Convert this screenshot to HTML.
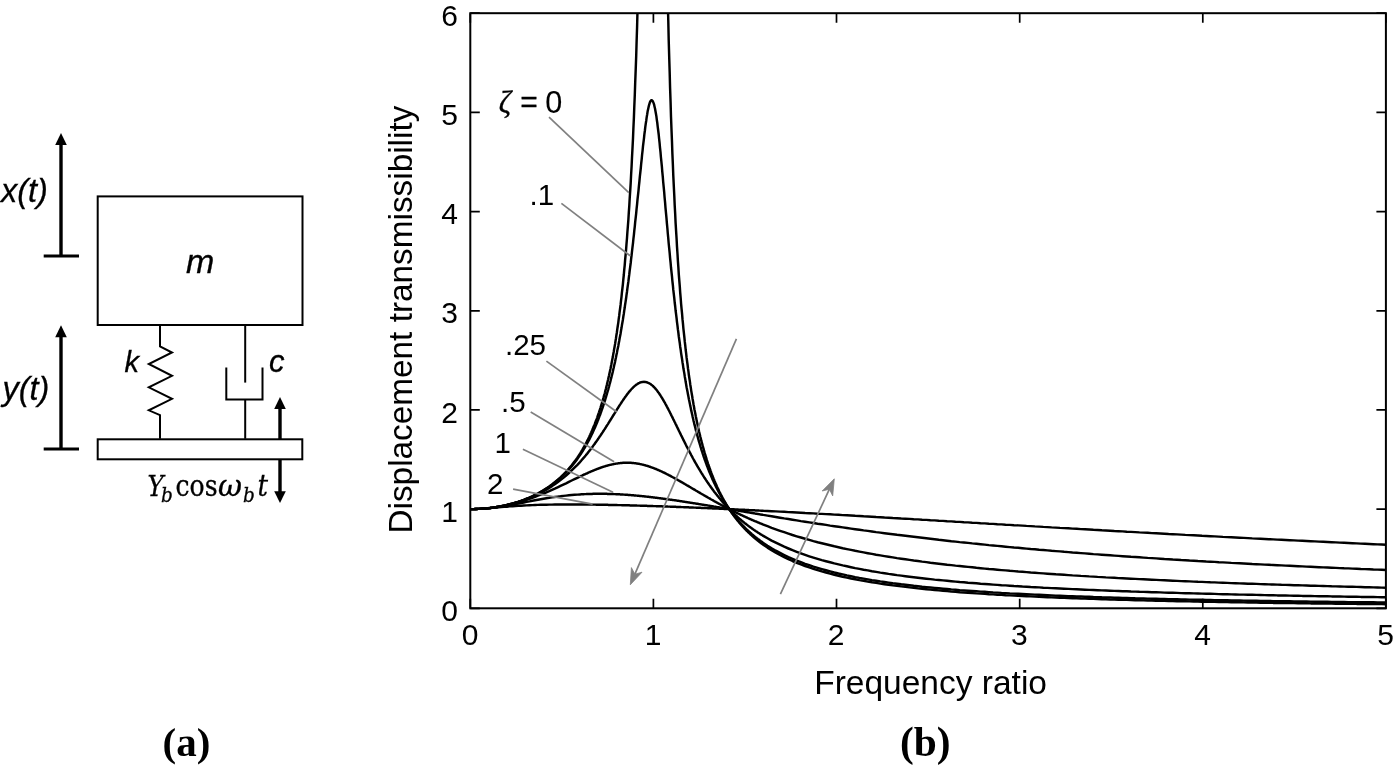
<!DOCTYPE html>
<html lang="en"><head><meta charset="utf-8"><title>Displacement transmissibility</title>
<style>
html,body{margin:0;padding:0;background:#fff;}
body{width:1394px;height:766px;overflow:hidden;}
svg{display:block;}
.s{font-family:"Liberation Sans",Arial,sans-serif;fill:#000;}
.si{font-family:"Liberation Sans",Arial,sans-serif;font-style:italic;fill:#000;stroke:#000;stroke-width:0.3px;}
.t{font-family:"Liberation Serif","Times New Roman",serif;fill:#000;}
.m{font-family:"DejaVu Serif Condensed","DejaVu Serif","Liberation Serif",serif;fill:#000;}
</style></head><body>
<svg width="1394" height="766" viewBox="0 0 1394 766">
<defs><clipPath id="ax"><rect x="470.3" y="13.2" width="915.6" height="595.1"/></clipPath></defs>
<rect width="1394" height="766" fill="#fff"/>

<g id="diagram" stroke="#000" fill="none">
<rect x="97.7" y="196.4" width="204.8" height="128.6" stroke-width="2"/>
<rect x="97.7" y="439.3" width="204.6" height="20" stroke-width="2"/>
<path d="M160,325 L160,346.4 L172,352.5 L148.8,364 L172,375.8 L148.8,387.3 L172,398.8 L148.8,410.3 L160,415.2 L160,438.8" stroke-width="2" stroke-linejoin="miter"/>
<path d="M245.2,325 L245.2,382.6" stroke-width="2"/>
<path d="M226.3,367.5 L226.3,399.6 L262.5,399.6 L262.5,367.5" stroke-width="2"/>
<path d="M245.2,399.6 L245.2,438.8" stroke-width="2"/>
<path d="M61,256 L61,142" stroke-width="3.4"/>
<path d="M43.7,256 L79,256" stroke-width="3"/>
<path d="M61,448.9 L61,335" stroke-width="3.4"/>
<path d="M43.7,448.9 L79,448.9" stroke-width="3"/>
<path d="M280,406 L280,439.3 M280,459.3 L280,494" stroke-width="3.4"/>
</g>
<g id="heads" fill="#000" stroke="none">
<path d="M61,133 L66.8,145 L55.2,145 Z"/>
<path d="M61,325.3 L66.8,337.3 L55.2,337.3 Z"/>
<path d="M280,397 L285.8,409 L274.2,409 Z"/>
<path d="M280,503 L285.8,491.3 L274.2,491.3 Z"/>
</g>
<text class="si" x="1" y="202" font-size="32.5">x(t)</text>
<text class="si" x="2.5" y="400" font-size="32.5">y(t)</text>
<text class="si" x="200.1" y="272.6" font-size="34" text-anchor="middle">m</text>
<text class="si" x="124.5" y="372.3" font-size="29">k</text>
<text class="si" x="269" y="372.3" font-size="31">c</text>
<g class="m" font-style="italic" stroke="#000" stroke-width="0.3"><text x="147.5" y="495.7" font-size="27">Y</text><text x="161" y="502" font-size="20.5">b</text><text x="175.5" y="495.7" font-size="29" font-style="normal" textLength="42" lengthAdjust="spacingAndGlyphs">cos</text><text x="218" y="495.7" font-size="29" textLength="24" lengthAdjust="spacingAndGlyphs">ω</text><text x="243" y="502" font-size="20.5">b</text><text x="257.5" y="495.7" font-size="29">t</text></g>
<text class="t" x="186.5" y="756.2" font-size="41" font-weight="bold" text-anchor="middle">(a)</text>
<text class="t" x="925.2" y="756.2" font-size="41.4" font-weight="bold" text-anchor="middle">(b)</text>
<g id="chart">
<g clip-path="url(#ax)" fill="none" stroke="#000" stroke-width="2.45" stroke-linejoin="round">
<path d="M470.3,509.1 L473.1,509.1 L475.9,509.0 L478.8,508.9 L481.6,508.7 L484.4,508.5 L487.2,508.3 L490.0,508.0 L492.8,507.6 L495.7,507.2 L498.5,506.7 L501.3,506.2 L504.1,505.6 L506.9,505.0 L509.7,504.3 L512.6,503.5 L515.4,502.7 L518.2,501.8 L521.0,500.9 L523.8,499.9 L526.6,498.7 L529.5,497.6 L532.3,496.3 L535.1,494.9 L537.9,493.5 L540.7,491.9 L543.5,490.2 L546.4,488.4 L549.2,486.5 L552.0,484.5 L554.8,482.3 L557.6,479.9 L560.5,477.4 L563.3,474.7 L566.1,471.8 L568.9,468.6 L571.7,465.2 L574.5,461.6 L577.4,457.6 L580.2,453.3 L580.6,452.6 L581.1,451.8 L581.5,451.1 L582.0,450.3 L582.5,449.6 L582.9,448.8 L583.4,448.0 L583.8,447.2 L584.3,446.3 L584.8,445.5 L585.2,444.7 L585.7,443.8 L586.1,443.0 L586.6,442.1 L587.1,441.2 L587.5,440.3 L588.0,439.3 L588.4,438.4 L588.9,437.5 L589.4,436.5 L589.8,435.5 L590.3,434.5 L590.7,433.5 L591.2,432.5 L591.6,431.5 L592.1,430.4 L592.6,429.3 L593.0,428.2 L593.5,427.1 L593.9,426.0 L594.4,424.9 L594.9,423.7 L595.3,422.5 L595.8,421.3 L596.2,420.1 L596.7,418.9 L597.2,417.6 L597.6,416.3 L598.1,415.0 L598.5,413.7 L599.0,412.3 L599.4,411.0 L599.9,409.6 L600.4,408.1 L600.8,406.7 L601.3,405.2 L601.7,403.7 L602.2,402.2 L602.7,400.6 L603.1,399.0 L603.6,397.4 L604.0,395.7 L604.5,394.1 L605.0,392.3 L605.4,390.6 L605.9,388.8 L606.3,387.0 L606.8,385.1 L607.2,383.2 L607.7,381.3 L608.2,379.3 L608.6,377.3 L609.1,375.3 L609.5,373.2 L610.0,371.0 L610.5,368.8 L610.9,366.6 L611.4,364.3 L611.8,361.9 L612.3,359.5 L612.8,357.1 L613.2,354.6 L613.7,352.0 L614.1,349.4 L614.6,346.7 L615.1,343.9 L615.5,341.1 L616.0,338.2 L616.4,335.2 L616.9,332.2 L617.3,329.1 L617.8,325.8 L618.3,322.6 L618.7,319.2 L619.2,315.7 L619.6,312.1 L620.1,308.5 L620.6,304.7 L621.0,300.8 L621.5,296.8 L621.9,292.7 L622.4,288.5 L622.9,284.1 L623.3,279.7 L623.8,275.0 L624.2,270.2 L624.7,265.3 L625.1,260.2 L625.6,254.9 L626.1,249.5 L626.5,243.9 L627.0,238.0 L627.4,232.0 L627.9,225.8 L628.4,219.3 L628.8,212.6 L629.3,205.6 L629.7,198.3 L630.2,190.8 L630.7,182.9 L631.1,174.8 L631.6,166.2 L632.0,157.4 L632.5,148.1 L633.0,138.4 L633.4,128.2 L633.9,117.6 L634.3,106.5 L634.8,94.8 L635.2,82.5 L635.7,69.6 L636.2,56.0 L636.6,41.7 L637.1,26.5 L637.5,10.5 L638.0,-6.5 L638.5,-24.5 L638.9,-43.7 L639.0,-46.3 M666.8,-46.3 L666.9,-40.8 L667.4,-18.7 L667.8,2.0 L668.3,21.4 L668.7,39.7 L669.2,56.9 L669.7,73.1 L670.1,88.4 L670.6,102.9 L671.0,116.7 L671.5,129.7 L672.0,142.1 L672.4,153.9 L672.9,165.2 L673.3,175.9 L673.8,186.1 L674.3,195.9 L674.7,205.3 L675.2,214.3 L675.6,222.9 L676.1,231.1 L676.6,239.0 L677.0,246.6 L677.5,254.0 L677.9,261.0 L678.4,267.8 L678.8,274.3 L679.3,280.6 L679.8,286.7 L680.2,292.6 L680.7,298.3 L681.1,303.8 L681.6,309.1 L682.1,314.2 L682.5,319.2 L683.0,324.0 L683.4,328.7 L683.9,333.2 L684.4,337.6 L684.8,341.9 L685.3,346.0 L685.7,350.0 L686.2,353.9 L686.6,357.7 L687.1,361.4 L687.6,365.0 L688.0,368.5 L688.5,371.9 L688.9,375.3 L689.4,378.5 L689.9,381.6 L690.3,384.7 L690.8,387.7 L691.2,390.6 L691.7,393.5 L692.2,396.3 L692.6,399.0 L693.1,401.7 L693.5,404.3 L694.0,406.8 L694.4,409.3 L694.9,411.7 L695.4,414.1 L695.8,416.4 L696.3,418.6 L696.7,420.9 L697.2,423.0 L697.7,425.2 L698.1,427.2 L698.6,429.3 L699.0,431.3 L699.5,433.2 L700.0,435.2 L700.4,437.0 L700.9,438.9 L701.3,440.7 L701.8,442.5 L702.3,444.2 L702.7,445.9 L703.2,447.6 L703.6,449.2 L704.1,450.9 L704.5,452.4 L705.0,454.0 L705.5,455.5 L705.9,457.0 L706.4,458.5 L706.8,459.9 L707.3,461.4 L707.8,462.8 L708.2,464.1 L708.7,465.5 L709.1,466.8 L709.6,468.1 L710.1,469.4 L710.5,470.7 L711.0,471.9 L711.4,473.2 L711.9,474.4 L712.3,475.6 L712.8,476.7 L713.3,477.9 L713.7,479.0 L714.2,480.1 L714.6,481.2 L715.1,482.3 L715.6,483.4 L716.0,484.4 L716.5,485.4 L716.9,486.5 L717.4,487.5 L717.9,488.5 L718.3,489.4 L718.8,490.4 L719.2,491.3 L719.7,492.3 L720.2,493.2 L720.6,494.1 L721.1,495.0 L721.5,495.9 L722.0,496.7 L722.4,497.6 L722.9,498.4 L723.4,499.3 L723.8,500.1 L724.3,500.9 L724.7,501.7 L725.2,502.5 L725.7,503.3 L726.1,504.1 L726.6,504.8 L727.0,505.6 L727.5,506.3 L728.0,507.1 L728.4,507.8 L728.9,508.5 L729.3,509.2 L729.8,509.9 L730.2,510.6 L730.7,511.3 L731.2,511.9 L731.6,512.6 L732.1,513.3 L732.5,513.9 L733.0,514.6 L733.5,515.2 L733.9,515.8 L734.4,516.4 L734.8,517.0 L735.3,517.7 L735.8,518.2 L736.2,518.8 L736.7,519.4 L737.1,520.0 L737.6,520.6 L738.0,521.1 L738.5,521.7 L739.0,522.2 L739.4,522.8 L739.9,523.3 L740.3,523.9 L740.8,524.4 L741.3,524.9 L741.7,525.4 L742.2,525.9 L742.6,526.5 L743.1,527.0 L743.6,527.4 L744.0,527.9 L744.5,528.4 L744.9,528.9 L745.4,529.4 L745.9,529.9 L746.3,530.3 L746.8,530.8 L747.2,531.2 L747.7,531.7 L748.1,532.1 L748.6,532.6 L749.1,533.0 L749.5,533.4 L750.0,533.9 L750.4,534.3 L750.9,534.7 L751.4,535.1 L751.8,535.6 L752.3,536.0 L752.7,536.4 L753.2,536.8 L753.7,537.2 L754.1,537.6 L754.6,538.0 L755.0,538.3 L755.5,538.7 L755.9,539.1 L756.4,539.5 L756.9,539.8 L757.3,540.2 L757.8,540.6 L758.2,540.9 L758.7,541.3 L759.2,541.7 L759.6,542.0 L760.1,542.4 L760.5,542.7 L761.0,543.1 L761.5,543.4 L761.9,543.7 L762.4,544.1 L762.8,544.4 L763.3,544.7 L767.5,547.6 L771.6,550.2 L775.8,552.7 L780.0,555.0 L784.2,557.1 L788.4,559.1 L792.5,561.0 L796.7,562.8 L800.9,564.4 L805.1,566.0 L809.3,567.4 L813.4,568.8 L817.6,570.1 L821.8,571.4 L826.0,572.5 L830.1,573.6 L834.3,574.7 L838.5,575.7 L842.7,576.7 L846.9,577.6 L851.0,578.5 L855.2,579.3 L859.4,580.1 L863.6,580.8 L867.8,581.6 L871.9,582.3 L876.1,582.9 L880.3,583.6 L884.5,584.2 L888.6,584.8 L892.8,585.4 L897.0,585.9 L901.2,586.4 L905.4,586.9 L909.5,587.4 L913.7,587.9 L917.9,588.4 L922.1,588.8 L926.3,589.2 L930.4,589.6 L934.6,590.0 L938.8,590.4 L943.0,590.8 L947.1,591.1 L951.3,591.5 L955.5,591.8 L959.7,592.2 L963.9,592.5 L968.0,592.8 L972.2,593.1 L976.4,593.4 L980.6,593.6 L984.8,593.9 L988.9,594.2 L993.1,594.4 L997.3,594.7 L1001.5,594.9 L1005.6,595.2 L1009.8,595.4 L1014.0,595.6 L1018.2,595.8 L1022.4,596.0 L1026.5,596.2 L1030.7,596.4 L1034.9,596.6 L1039.1,596.8 L1043.3,597.0 L1047.4,597.2 L1051.6,597.4 L1055.8,597.5 L1060.0,597.7 L1064.1,597.9 L1068.3,598.0 L1072.5,598.2 L1076.7,598.3 L1080.9,598.5 L1085.0,598.6 L1089.2,598.8 L1093.4,598.9 L1097.6,599.1 L1101.8,599.2 L1105.9,599.3 L1110.1,599.5 L1114.3,599.6 L1118.5,599.7 L1122.6,599.8 L1126.8,599.9 L1131.0,600.0 L1135.2,600.2 L1139.4,600.3 L1143.5,600.4 L1147.7,600.5 L1151.9,600.6 L1156.1,600.7 L1160.3,600.8 L1164.4,600.9 L1168.6,601.0 L1172.8,601.1 L1177.0,601.2 L1181.1,601.3 L1185.3,601.3 L1189.5,601.4 L1193.7,601.5 L1197.9,601.6 L1202.0,601.7 L1206.2,601.8 L1210.4,601.8 L1214.6,601.9 L1218.8,602.0 L1222.9,602.1 L1227.1,602.1 L1231.3,602.2 L1235.5,602.3 L1239.6,602.3 L1243.8,602.4 L1248.0,602.5 L1252.2,602.5 L1256.4,602.6 L1260.5,602.7 L1264.7,602.7 L1268.9,602.8 L1273.1,602.9 L1277.3,602.9 L1281.4,603.0 L1285.6,603.0 L1289.8,603.1 L1294.0,603.1 L1298.1,603.2 L1302.3,603.3 L1306.5,603.3 L1310.7,603.4 L1314.9,603.4 L1319.0,603.5 L1323.2,603.5 L1327.4,603.6 L1331.6,603.6 L1335.8,603.7 L1339.9,603.7 L1344.1,603.7 L1348.3,603.8 L1352.5,603.8 L1356.6,603.9 L1360.8,603.9 L1365.0,604.0 L1369.2,604.0 L1373.4,604.0 L1377.5,604.1 L1381.7,604.1 L1385.9,604.2"/>
<path d="M470.3,509.1 L473.1,509.1 L475.9,509.0 L478.8,508.9 L481.6,508.7 L484.4,508.5 L487.2,508.3 L490.0,508.0 L492.8,507.6 L495.7,507.2 L498.5,506.7 L501.3,506.2 L504.1,505.6 L506.9,505.0 L509.7,504.3 L512.6,503.6 L515.4,502.7 L518.2,501.9 L521.0,500.9 L523.8,499.9 L526.6,498.8 L529.5,497.6 L532.3,496.4 L535.1,495.0 L537.9,493.6 L540.7,492.0 L543.5,490.4 L546.4,488.6 L549.2,486.7 L552.0,484.7 L554.8,482.6 L557.6,480.3 L560.5,477.9 L563.3,475.2 L566.1,472.4 L568.9,469.4 L571.7,466.2 L574.5,462.7 L577.4,458.9 L580.2,454.9 L580.6,454.2 L581.1,453.5 L581.5,452.8 L582.0,452.1 L582.5,451.4 L582.9,450.6 L583.4,449.9 L583.8,449.1 L584.3,448.4 L584.8,447.6 L585.2,446.8 L585.7,446.0 L586.1,445.2 L586.6,444.4 L587.1,443.6 L587.5,442.7 L588.0,441.9 L588.4,441.0 L588.9,440.2 L589.4,439.3 L589.8,438.4 L590.3,437.5 L590.7,436.6 L591.2,435.6 L591.6,434.7 L592.1,433.7 L592.6,432.8 L593.0,431.8 L593.5,430.8 L593.9,429.8 L594.4,428.8 L594.9,427.7 L595.3,426.7 L595.8,425.6 L596.2,424.5 L596.7,423.4 L597.2,422.3 L597.6,421.1 L598.1,420.0 L598.5,418.8 L599.0,417.6 L599.4,416.4 L599.9,415.2 L600.4,414.0 L600.8,412.7 L601.3,411.4 L601.7,410.1 L602.2,408.8 L602.7,407.4 L603.1,406.1 L603.6,404.7 L604.0,403.3 L604.5,401.9 L605.0,400.4 L605.4,398.9 L605.9,397.4 L606.3,395.9 L606.8,394.4 L607.2,392.8 L607.7,391.2 L608.2,389.6 L608.6,387.9 L609.1,386.3 L609.5,384.5 L610.0,382.8 L610.5,381.0 L610.9,379.3 L611.4,377.4 L611.8,375.6 L612.3,373.7 L612.8,371.8 L613.2,369.8 L613.7,367.8 L614.1,365.8 L614.6,363.7 L615.1,361.6 L615.5,359.5 L616.0,357.3 L616.4,355.1 L616.9,352.9 L617.3,350.6 L617.8,348.3 L618.3,345.9 L618.7,343.5 L619.2,341.0 L619.6,338.5 L620.1,336.0 L620.6,333.4 L621.0,330.7 L621.5,328.1 L621.9,325.3 L622.4,322.5 L622.9,319.7 L623.3,316.8 L623.8,313.9 L624.2,310.9 L624.7,307.8 L625.1,304.7 L625.6,301.6 L626.1,298.3 L626.5,295.1 L627.0,291.7 L627.4,288.4 L627.9,284.9 L628.4,281.4 L628.8,277.8 L629.3,274.2 L629.7,270.5 L630.2,266.8 L630.7,263.0 L631.1,259.2 L631.6,255.2 L632.0,251.3 L632.5,247.2 L633.0,243.1 L633.4,239.0 L633.9,234.8 L634.3,230.6 L634.8,226.3 L635.2,221.9 L635.7,217.6 L636.2,213.1 L636.6,208.7 L637.1,204.2 L637.5,199.7 L638.0,195.2 L638.5,190.6 L638.9,186.1 L639.4,181.5 L639.8,177.0 L640.3,172.5 L640.8,168.0 L641.2,163.5 L641.7,159.1 L642.1,154.7 L642.6,150.4 L643.0,146.2 L643.5,142.1 L644.0,138.1 L644.4,134.2 L644.9,130.5 L645.3,126.9 L645.8,123.4 L646.3,120.2 L646.7,117.1 L647.2,114.3 L647.6,111.6 L648.1,109.3 L648.6,107.1 L649.0,105.3 L649.5,103.7 L649.9,102.4 L650.4,101.4 L650.8,100.7 L651.3,100.3 L651.8,100.2 L652.2,100.5 L652.7,101.0 L653.1,101.9 L653.6,103.1 L654.1,104.6 L654.5,106.4 L655.0,108.5 L655.4,110.8 L655.9,113.5 L656.4,116.4 L656.8,119.6 L657.3,123.0 L657.7,126.6 L658.2,130.5 L658.7,134.5 L659.1,138.7 L659.6,143.1 L660.0,147.6 L660.5,152.2 L660.9,157.0 L661.4,161.9 L661.9,166.8 L662.3,171.8 L662.8,176.9 L663.2,182.0 L663.7,187.2 L664.2,192.3 L664.6,197.5 L665.1,202.7 L665.5,207.9 L666.0,213.1 L666.5,218.3 L666.9,223.4 L667.4,228.5 L667.8,233.5 L668.3,238.6 L668.7,243.5 L669.2,248.4 L669.7,253.3 L670.1,258.1 L670.6,262.8 L671.0,267.5 L671.5,272.1 L672.0,276.7 L672.4,281.1 L672.9,285.5 L673.3,289.9 L673.8,294.1 L674.3,298.3 L674.7,302.5 L675.2,306.5 L675.6,310.5 L676.1,314.4 L676.6,318.3 L677.0,322.1 L677.5,325.8 L677.9,329.4 L678.4,333.0 L678.8,336.5 L679.3,340.0 L679.8,343.3 L680.2,346.7 L680.7,349.9 L681.1,353.1 L681.6,356.3 L682.1,359.4 L682.5,362.4 L683.0,365.3 L683.4,368.3 L683.9,371.1 L684.4,373.9 L684.8,376.7 L685.3,379.4 L685.7,382.1 L686.2,384.7 L686.6,387.2 L687.1,389.7 L687.6,392.2 L688.0,394.6 L688.5,397.0 L688.9,399.3 L689.4,401.6 L689.9,403.9 L690.3,406.1 L690.8,408.3 L691.2,410.4 L691.7,412.5 L692.2,414.6 L692.6,416.6 L693.1,418.6 L693.5,420.6 L694.0,422.5 L694.4,424.4 L694.9,426.2 L695.4,428.1 L695.8,429.9 L696.3,431.6 L696.7,433.4 L697.2,435.1 L697.7,436.8 L698.1,438.4 L698.6,440.1 L699.0,441.7 L699.5,443.2 L700.0,444.8 L700.4,446.3 L700.9,447.8 L701.3,449.3 L701.8,450.8 L702.3,452.2 L702.7,453.6 L703.2,455.0 L703.6,456.4 L704.1,457.7 L704.5,459.0 L705.0,460.3 L705.5,461.6 L705.9,462.9 L706.4,464.1 L706.8,465.4 L707.3,466.6 L707.8,467.8 L708.2,469.0 L708.7,470.1 L709.1,471.3 L709.6,472.4 L710.1,473.5 L710.5,474.6 L711.0,475.7 L711.4,476.8 L711.9,477.8 L712.3,478.9 L712.8,479.9 L713.3,480.9 L713.7,481.9 L714.2,482.9 L714.6,483.8 L715.1,484.8 L715.6,485.7 L716.0,486.7 L716.5,487.6 L716.9,488.5 L717.4,489.4 L717.9,490.3 L718.3,491.2 L718.8,492.0 L719.2,492.9 L719.7,493.7 L720.2,494.5 L720.6,495.4 L721.1,496.2 L721.5,497.0 L722.0,497.8 L722.4,498.5 L722.9,499.3 L723.4,500.1 L723.8,500.8 L724.3,501.6 L724.7,502.3 L725.2,503.0 L725.7,503.8 L726.1,504.5 L726.6,505.2 L727.0,505.9 L727.5,506.5 L728.0,507.2 L728.4,507.9 L728.9,508.5 L729.3,509.2 L729.8,509.8 L730.2,510.5 L730.7,511.1 L731.2,511.7 L731.6,512.4 L732.1,513.0 L732.5,513.6 L733.0,514.2 L733.5,514.8 L733.9,515.4 L734.4,515.9 L734.8,516.5 L735.3,517.1 L735.8,517.6 L736.2,518.2 L736.7,518.7 L737.1,519.3 L737.6,519.8 L738.0,520.3 L738.5,520.9 L739.0,521.4 L739.4,521.9 L739.9,522.4 L740.3,522.9 L740.8,523.4 L741.3,523.9 L741.7,524.4 L742.2,524.9 L742.6,525.4 L743.1,525.8 L743.6,526.3 L744.0,526.8 L744.5,527.2 L744.9,527.7 L745.4,528.2 L745.9,528.6 L746.3,529.0 L746.8,529.5 L747.2,529.9 L747.7,530.4 L748.1,530.8 L748.6,531.2 L749.1,531.6 L749.5,532.0 L750.0,532.4 L750.4,532.9 L750.9,533.3 L751.4,533.7 L751.8,534.1 L752.3,534.5 L752.7,534.8 L753.2,535.2 L753.7,535.6 L754.1,536.0 L754.6,536.4 L755.0,536.7 L755.5,537.1 L755.9,537.5 L756.4,537.8 L756.9,538.2 L757.3,538.5 L757.8,538.9 L758.2,539.2 L758.7,539.6 L759.2,539.9 L759.6,540.3 L760.1,540.6 L760.5,541.0 L761.0,541.3 L761.5,541.6 L761.9,541.9 L762.4,542.3 L762.8,542.6 L763.3,542.9 L767.5,545.7 L771.6,548.3 L775.8,550.7 L780.0,552.9 L784.2,555.0 L788.4,557.0 L792.5,558.8 L796.7,560.6 L800.9,562.2 L805.1,563.8 L809.3,565.2 L813.4,566.6 L817.6,567.9 L821.8,569.1 L826.0,570.3 L830.1,571.4 L834.3,572.5 L838.5,573.5 L842.7,574.4 L846.9,575.4 L851.0,576.2 L855.2,577.1 L859.4,577.9 L863.6,578.6 L867.8,579.4 L871.9,580.1 L876.1,580.7 L880.3,581.4 L884.5,582.0 L888.6,582.6 L892.8,583.2 L897.0,583.7 L901.2,584.3 L905.4,584.8 L909.5,585.3 L913.7,585.8 L917.9,586.2 L922.1,586.7 L926.3,587.1 L930.4,587.5 L934.6,587.9 L938.8,588.3 L943.0,588.7 L947.1,589.0 L951.3,589.4 L955.5,589.7 L959.7,590.1 L963.9,590.4 L968.0,590.7 L972.2,591.0 L976.4,591.3 L980.6,591.6 L984.8,591.8 L988.9,592.1 L993.1,592.4 L997.3,592.6 L1001.5,592.9 L1005.6,593.1 L1009.8,593.4 L1014.0,593.6 L1018.2,593.8 L1022.4,594.0 L1026.5,594.2 L1030.7,594.4 L1034.9,594.6 L1039.1,594.8 L1043.3,595.0 L1047.4,595.2 L1051.6,595.4 L1055.8,595.6 L1060.0,595.7 L1064.1,595.9 L1068.3,596.1 L1072.5,596.2 L1076.7,596.4 L1080.9,596.5 L1085.0,596.7 L1089.2,596.8 L1093.4,597.0 L1097.6,597.1 L1101.8,597.3 L1105.9,597.4 L1110.1,597.5 L1114.3,597.7 L1118.5,597.8 L1122.6,597.9 L1126.8,598.0 L1131.0,598.1 L1135.2,598.3 L1139.4,598.4 L1143.5,598.5 L1147.7,598.6 L1151.9,598.7 L1156.1,598.8 L1160.3,598.9 L1164.4,599.0 L1168.6,599.1 L1172.8,599.2 L1177.0,599.3 L1181.1,599.4 L1185.3,599.5 L1189.5,599.6 L1193.7,599.7 L1197.9,599.7 L1202.0,599.8 L1206.2,599.9 L1210.4,600.0 L1214.6,600.1 L1218.8,600.2 L1222.9,600.2 L1227.1,600.3 L1231.3,600.4 L1235.5,600.5 L1239.6,600.5 L1243.8,600.6 L1248.0,600.7 L1252.2,600.7 L1256.4,600.8 L1260.5,600.9 L1264.7,600.9 L1268.9,601.0 L1273.1,601.1 L1277.3,601.1 L1281.4,601.2 L1285.6,601.3 L1289.8,601.3 L1294.0,601.4 L1298.1,601.4 L1302.3,601.5 L1306.5,601.5 L1310.7,601.6 L1314.9,601.7 L1319.0,601.7 L1323.2,601.8 L1327.4,601.8 L1331.6,601.9 L1335.8,601.9 L1339.9,602.0 L1344.1,602.0 L1348.3,602.1 L1352.5,602.1 L1356.6,602.2 L1360.8,602.2 L1365.0,602.2 L1369.2,602.3 L1373.4,602.3 L1377.5,602.4 L1381.7,602.4 L1385.9,602.5"/>
<path d="M470.3,509.1 L473.1,509.1 L475.9,509.0 L478.8,508.9 L481.6,508.7 L484.4,508.5 L487.2,508.3 L490.0,508.0 L492.8,507.6 L495.7,507.2 L498.5,506.7 L501.3,506.2 L504.1,505.6 L506.9,505.0 L509.7,504.4 L512.6,503.6 L515.4,502.8 L518.2,502.0 L521.0,501.1 L523.8,500.1 L526.6,499.0 L529.5,497.9 L532.3,496.7 L535.1,495.4 L537.9,494.1 L540.7,492.7 L543.5,491.2 L546.4,489.6 L549.2,487.9 L552.0,486.1 L554.8,484.2 L557.6,482.2 L560.5,480.1 L563.3,477.9 L566.1,475.5 L568.9,473.0 L571.7,470.4 L574.5,467.7 L577.4,464.8 L580.2,461.8 L580.6,461.3 L581.1,460.8 L581.5,460.3 L582.0,459.7 L582.5,459.2 L582.9,458.7 L583.4,458.2 L583.8,457.6 L584.3,457.1 L584.8,456.6 L585.2,456.0 L585.7,455.5 L586.1,454.9 L586.6,454.3 L587.1,453.8 L587.5,453.2 L588.0,452.6 L588.4,452.1 L588.9,451.5 L589.4,450.9 L589.8,450.3 L590.3,449.7 L590.7,449.1 L591.2,448.5 L591.6,447.9 L592.1,447.3 L592.6,446.7 L593.0,446.1 L593.5,445.4 L593.9,444.8 L594.4,444.2 L594.9,443.6 L595.3,442.9 L595.8,442.3 L596.2,441.6 L596.7,441.0 L597.2,440.3 L597.6,439.7 L598.1,439.0 L598.5,438.3 L599.0,437.7 L599.4,437.0 L599.9,436.3 L600.4,435.7 L600.8,435.0 L601.3,434.3 L601.7,433.6 L602.2,432.9 L602.7,432.2 L603.1,431.5 L603.6,430.8 L604.0,430.1 L604.5,429.4 L605.0,428.7 L605.4,428.0 L605.9,427.2 L606.3,426.5 L606.8,425.8 L607.2,425.1 L607.7,424.4 L608.2,423.6 L608.6,422.9 L609.1,422.2 L609.5,421.4 L610.0,420.7 L610.5,420.0 L610.9,419.2 L611.4,418.5 L611.8,417.8 L612.3,417.0 L612.8,416.3 L613.2,415.5 L613.7,414.8 L614.1,414.1 L614.6,413.3 L615.1,412.6 L615.5,411.9 L616.0,411.1 L616.4,410.4 L616.9,409.7 L617.3,408.9 L617.8,408.2 L618.3,407.5 L618.7,406.7 L619.2,406.0 L619.6,405.3 L620.1,404.6 L620.6,403.9 L621.0,403.2 L621.5,402.5 L621.9,401.8 L622.4,401.1 L622.9,400.4 L623.3,399.7 L623.8,399.1 L624.2,398.4 L624.7,397.7 L625.1,397.1 L625.6,396.5 L626.1,395.8 L626.5,395.2 L627.0,394.6 L627.4,394.0 L627.9,393.4 L628.4,392.8 L628.8,392.2 L629.3,391.7 L629.7,391.1 L630.2,390.6 L630.7,390.0 L631.1,389.5 L631.6,389.0 L632.0,388.5 L632.5,388.1 L633.0,387.6 L633.4,387.1 L633.9,386.7 L634.3,386.3 L634.8,385.9 L635.2,385.5 L635.7,385.2 L636.2,384.8 L636.6,384.5 L637.1,384.2 L637.5,383.9 L638.0,383.6 L638.5,383.3 L638.9,383.1 L639.4,382.9 L639.8,382.7 L640.3,382.5 L640.8,382.4 L641.2,382.2 L641.7,382.1 L642.1,382.0 L642.6,381.9 L643.0,381.9 L643.5,381.9 L644.0,381.8 L644.4,381.9 L644.9,381.9 L645.3,382.0 L645.8,382.0 L646.3,382.1 L646.7,382.3 L647.2,382.4 L647.6,382.6 L648.1,382.8 L648.6,383.0 L649.0,383.2 L649.5,383.5 L649.9,383.7 L650.4,384.0 L650.8,384.3 L651.3,384.7 L651.8,385.0 L652.2,385.4 L652.7,385.8 L653.1,386.3 L653.6,386.7 L654.1,387.2 L654.5,387.6 L655.0,388.1 L655.4,388.7 L655.9,389.2 L656.4,389.8 L656.8,390.3 L657.3,390.9 L657.7,391.5 L658.2,392.2 L658.7,392.8 L659.1,393.5 L659.6,394.1 L660.0,394.8 L660.5,395.5 L660.9,396.2 L661.4,397.0 L661.9,397.7 L662.3,398.5 L662.8,399.2 L663.2,400.0 L663.7,400.8 L664.2,401.6 L664.6,402.4 L665.1,403.2 L665.5,404.1 L666.0,404.9 L666.5,405.8 L666.9,406.6 L667.4,407.5 L667.8,408.4 L668.3,409.2 L668.7,410.1 L669.2,411.0 L669.7,411.9 L670.1,412.8 L670.6,413.7 L671.0,414.6 L671.5,415.6 L672.0,416.5 L672.4,417.4 L672.9,418.3 L673.3,419.3 L673.8,420.2 L674.3,421.2 L674.7,422.1 L675.2,423.0 L675.6,424.0 L676.1,424.9 L676.6,425.9 L677.0,426.8 L677.5,427.7 L677.9,428.7 L678.4,429.6 L678.8,430.6 L679.3,431.5 L679.8,432.5 L680.2,433.4 L680.7,434.3 L681.1,435.3 L681.6,436.2 L682.1,437.1 L682.5,438.1 L683.0,439.0 L683.4,439.9 L683.9,440.8 L684.4,441.8 L684.8,442.7 L685.3,443.6 L685.7,444.5 L686.2,445.4 L686.6,446.3 L687.1,447.2 L687.6,448.1 L688.0,449.0 L688.5,449.9 L688.9,450.7 L689.4,451.6 L689.9,452.5 L690.3,453.4 L690.8,454.2 L691.2,455.1 L691.7,455.9 L692.2,456.8 L692.6,457.6 L693.1,458.5 L693.5,459.3 L694.0,460.1 L694.4,461.0 L694.9,461.8 L695.4,462.6 L695.8,463.4 L696.3,464.2 L696.7,465.0 L697.2,465.8 L697.7,466.6 L698.1,467.4 L698.6,468.2 L699.0,468.9 L699.5,469.7 L700.0,470.5 L700.4,471.2 L700.9,472.0 L701.3,472.7 L701.8,473.5 L702.3,474.2 L702.7,474.9 L703.2,475.7 L703.6,476.4 L704.1,477.1 L704.5,477.8 L705.0,478.5 L705.5,479.2 L705.9,479.9 L706.4,480.6 L706.8,481.3 L707.3,482.0 L707.8,482.6 L708.2,483.3 L708.7,484.0 L709.1,484.6 L709.6,485.3 L710.1,485.9 L710.5,486.6 L711.0,487.2 L711.4,487.9 L711.9,488.5 L712.3,489.1 L712.8,489.7 L713.3,490.4 L713.7,491.0 L714.2,491.6 L714.6,492.2 L715.1,492.8 L715.6,493.4 L716.0,494.0 L716.5,494.5 L716.9,495.1 L717.4,495.7 L717.9,496.3 L718.3,496.8 L718.8,497.4 L719.2,497.9 L719.7,498.5 L720.2,499.0 L720.6,499.6 L721.1,500.1 L721.5,500.7 L722.0,501.2 L722.4,501.7 L722.9,502.3 L723.4,502.8 L723.8,503.3 L724.3,503.8 L724.7,504.3 L725.2,504.8 L725.7,505.3 L726.1,505.8 L726.6,506.3 L727.0,506.8 L727.5,507.3 L728.0,507.8 L728.4,508.2 L728.9,508.7 L729.3,509.2 L729.8,509.6 L730.2,510.1 L730.7,510.6 L731.2,511.0 L731.6,511.5 L732.1,511.9 L732.5,512.4 L733.0,512.8 L733.5,513.2 L733.9,513.7 L734.4,514.1 L734.8,514.5 L735.3,515.0 L735.8,515.4 L736.2,515.8 L736.7,516.2 L737.1,516.6 L737.6,517.1 L738.0,517.5 L738.5,517.9 L739.0,518.3 L739.4,518.7 L739.9,519.1 L740.3,519.4 L740.8,519.8 L741.3,520.2 L741.7,520.6 L742.2,521.0 L742.6,521.4 L743.1,521.7 L743.6,522.1 L744.0,522.5 L744.5,522.9 L744.9,523.2 L745.4,523.6 L745.9,523.9 L746.3,524.3 L746.8,524.6 L747.2,525.0 L747.7,525.3 L748.1,525.7 L748.6,526.0 L749.1,526.4 L749.5,526.7 L750.0,527.1 L750.4,527.4 L750.9,527.7 L751.4,528.0 L751.8,528.4 L752.3,528.7 L752.7,529.0 L753.2,529.3 L753.7,529.7 L754.1,530.0 L754.6,530.3 L755.0,530.6 L755.5,530.9 L755.9,531.2 L756.4,531.5 L756.9,531.8 L757.3,532.1 L757.8,532.4 L758.2,532.7 L758.7,533.0 L759.2,533.3 L759.6,533.6 L760.1,533.9 L760.5,534.2 L761.0,534.5 L761.5,534.7 L761.9,535.0 L762.4,535.3 L762.8,535.6 L763.3,535.9 L767.5,538.3 L771.6,540.6 L775.8,542.7 L780.0,544.7 L784.2,546.7 L788.4,548.5 L792.5,550.2 L796.7,551.8 L800.9,553.4 L805.1,554.9 L809.3,556.3 L813.4,557.6 L817.6,558.9 L821.8,560.1 L826.0,561.2 L830.1,562.3 L834.3,563.4 L838.5,564.4 L842.7,565.4 L846.9,566.3 L851.0,567.2 L855.2,568.1 L859.4,568.9 L863.6,569.7 L867.8,570.4 L871.9,571.2 L876.1,571.9 L880.3,572.6 L884.5,573.2 L888.6,573.9 L892.8,574.5 L897.0,575.1 L901.2,575.6 L905.4,576.2 L909.5,576.7 L913.7,577.2 L917.9,577.7 L922.1,578.2 L926.3,578.7 L930.4,579.1 L934.6,579.6 L938.8,580.0 L943.0,580.4 L947.1,580.8 L951.3,581.2 L955.5,581.6 L959.7,582.0 L963.9,582.3 L968.0,582.7 L972.2,583.0 L976.4,583.3 L980.6,583.7 L984.8,584.0 L988.9,584.3 L993.1,584.6 L997.3,584.9 L1001.5,585.2 L1005.6,585.4 L1009.8,585.7 L1014.0,586.0 L1018.2,586.2 L1022.4,586.5 L1026.5,586.7 L1030.7,587.0 L1034.9,587.2 L1039.1,587.4 L1043.3,587.7 L1047.4,587.9 L1051.6,588.1 L1055.8,588.3 L1060.0,588.5 L1064.1,588.7 L1068.3,588.9 L1072.5,589.1 L1076.7,589.3 L1080.9,589.5 L1085.0,589.7 L1089.2,589.9 L1093.4,590.0 L1097.6,590.2 L1101.8,590.4 L1105.9,590.5 L1110.1,590.7 L1114.3,590.9 L1118.5,591.0 L1122.6,591.2 L1126.8,591.3 L1131.0,591.5 L1135.2,591.6 L1139.4,591.8 L1143.5,591.9 L1147.7,592.0 L1151.9,592.2 L1156.1,592.3 L1160.3,592.4 L1164.4,592.6 L1168.6,592.7 L1172.8,592.8 L1177.0,592.9 L1181.1,593.1 L1185.3,593.2 L1189.5,593.3 L1193.7,593.4 L1197.9,593.5 L1202.0,593.6 L1206.2,593.7 L1210.4,593.8 L1214.6,593.9 L1218.8,594.1 L1222.9,594.2 L1227.1,594.3 L1231.3,594.4 L1235.5,594.5 L1239.6,594.6 L1243.8,594.6 L1248.0,594.7 L1252.2,594.8 L1256.4,594.9 L1260.5,595.0 L1264.7,595.1 L1268.9,595.2 L1273.1,595.3 L1277.3,595.4 L1281.4,595.4 L1285.6,595.5 L1289.8,595.6 L1294.0,595.7 L1298.1,595.8 L1302.3,595.9 L1306.5,595.9 L1310.7,596.0 L1314.9,596.1 L1319.0,596.2 L1323.2,596.2 L1327.4,596.3 L1331.6,596.4 L1335.8,596.4 L1339.9,596.5 L1344.1,596.6 L1348.3,596.7 L1352.5,596.7 L1356.6,596.8 L1360.8,596.9 L1365.0,596.9 L1369.2,597.0 L1373.4,597.0 L1377.5,597.1 L1381.7,597.2 L1385.9,597.2"/>
<path d="M470.3,509.1 L473.1,509.1 L475.9,509.0 L478.8,508.9 L481.6,508.7 L484.4,508.5 L487.2,508.3 L490.0,508.0 L492.8,507.6 L495.7,507.2 L498.5,506.8 L501.3,506.3 L504.1,505.7 L506.9,505.2 L509.7,504.5 L512.6,503.8 L515.4,503.1 L518.2,502.3 L521.0,501.5 L523.8,500.7 L526.6,499.8 L529.5,498.8 L532.3,497.8 L535.1,496.8 L537.9,495.7 L540.7,494.6 L543.5,493.5 L546.4,492.3 L549.2,491.1 L552.0,489.8 L554.8,488.6 L557.6,487.3 L560.5,485.9 L563.3,484.6 L566.1,483.3 L568.9,481.9 L571.7,480.5 L574.5,479.2 L577.4,477.8 L580.2,476.5 L580.6,476.2 L581.1,476.0 L581.5,475.8 L582.0,475.6 L582.5,475.4 L582.9,475.2 L583.4,474.9 L583.8,474.7 L584.3,474.5 L584.8,474.3 L585.2,474.1 L585.7,473.9 L586.1,473.7 L586.6,473.5 L587.1,473.3 L587.5,473.1 L588.0,472.8 L588.4,472.6 L588.9,472.4 L589.4,472.2 L589.8,472.0 L590.3,471.8 L590.7,471.6 L591.2,471.4 L591.6,471.2 L592.1,471.1 L592.6,470.9 L593.0,470.7 L593.5,470.5 L593.9,470.3 L594.4,470.1 L594.9,469.9 L595.3,469.7 L595.8,469.6 L596.2,469.4 L596.7,469.2 L597.2,469.0 L597.6,468.8 L598.1,468.7 L598.5,468.5 L599.0,468.3 L599.4,468.2 L599.9,468.0 L600.4,467.8 L600.8,467.7 L601.3,467.5 L601.7,467.3 L602.2,467.2 L602.7,467.0 L603.1,466.9 L603.6,466.7 L604.0,466.6 L604.5,466.4 L605.0,466.3 L605.4,466.2 L605.9,466.0 L606.3,465.9 L606.8,465.8 L607.2,465.6 L607.7,465.5 L608.2,465.4 L608.6,465.2 L609.1,465.1 L609.5,465.0 L610.0,464.9 L610.5,464.8 L610.9,464.7 L611.4,464.6 L611.8,464.5 L612.3,464.4 L612.8,464.3 L613.2,464.2 L613.7,464.1 L614.1,464.0 L614.6,463.9 L615.1,463.8 L615.5,463.7 L616.0,463.6 L616.4,463.6 L616.9,463.5 L617.3,463.4 L617.8,463.4 L618.3,463.3 L618.7,463.2 L619.2,463.2 L619.6,463.1 L620.1,463.1 L620.6,463.0 L621.0,463.0 L621.5,462.9 L621.9,462.9 L622.4,462.9 L622.9,462.8 L623.3,462.8 L623.8,462.8 L624.2,462.8 L624.7,462.8 L625.1,462.7 L625.6,462.7 L626.1,462.7 L626.5,462.7 L627.0,462.7 L627.4,462.7 L627.9,462.7 L628.4,462.7 L628.8,462.7 L629.3,462.8 L629.7,462.8 L630.2,462.8 L630.7,462.8 L631.1,462.8 L631.6,462.9 L632.0,462.9 L632.5,463.0 L633.0,463.0 L633.4,463.0 L633.9,463.1 L634.3,463.1 L634.8,463.2 L635.2,463.3 L635.7,463.3 L636.2,463.4 L636.6,463.4 L637.1,463.5 L637.5,463.6 L638.0,463.7 L638.5,463.8 L638.9,463.8 L639.4,463.9 L639.8,464.0 L640.3,464.1 L640.8,464.2 L641.2,464.3 L641.7,464.4 L642.1,464.5 L642.6,464.6 L643.0,464.7 L643.5,464.9 L644.0,465.0 L644.4,465.1 L644.9,465.2 L645.3,465.3 L645.8,465.5 L646.3,465.6 L646.7,465.7 L647.2,465.9 L647.6,466.0 L648.1,466.2 L648.6,466.3 L649.0,466.5 L649.5,466.6 L649.9,466.8 L650.4,466.9 L650.8,467.1 L651.3,467.3 L651.8,467.4 L652.2,467.6 L652.7,467.8 L653.1,467.9 L653.6,468.1 L654.1,468.3 L654.5,468.5 L655.0,468.6 L655.4,468.8 L655.9,469.0 L656.4,469.2 L656.8,469.4 L657.3,469.6 L657.7,469.8 L658.2,470.0 L658.7,470.2 L659.1,470.4 L659.6,470.6 L660.0,470.8 L660.5,471.0 L660.9,471.2 L661.4,471.4 L661.9,471.6 L662.3,471.9 L662.8,472.1 L663.2,472.3 L663.7,472.5 L664.2,472.7 L664.6,473.0 L665.1,473.2 L665.5,473.4 L666.0,473.6 L666.5,473.9 L666.9,474.1 L667.4,474.3 L667.8,474.6 L668.3,474.8 L668.7,475.1 L669.2,475.3 L669.7,475.5 L670.1,475.8 L670.6,476.0 L671.0,476.3 L671.5,476.5 L672.0,476.8 L672.4,477.0 L672.9,477.3 L673.3,477.5 L673.8,477.8 L674.3,478.0 L674.7,478.3 L675.2,478.5 L675.6,478.8 L676.1,479.0 L676.6,479.3 L677.0,479.5 L677.5,479.8 L677.9,480.1 L678.4,480.3 L678.8,480.6 L679.3,480.8 L679.8,481.1 L680.2,481.4 L680.7,481.6 L681.1,481.9 L681.6,482.2 L682.1,482.4 L682.5,482.7 L683.0,482.9 L683.4,483.2 L683.9,483.5 L684.4,483.7 L684.8,484.0 L685.3,484.3 L685.7,484.6 L686.2,484.8 L686.6,485.1 L687.1,485.4 L687.6,485.6 L688.0,485.9 L688.5,486.2 L688.9,486.4 L689.4,486.7 L689.9,487.0 L690.3,487.2 L690.8,487.5 L691.2,487.8 L691.7,488.1 L692.2,488.3 L692.6,488.6 L693.1,488.9 L693.5,489.1 L694.0,489.4 L694.4,489.7 L694.9,489.9 L695.4,490.2 L695.8,490.5 L696.3,490.8 L696.7,491.0 L697.2,491.3 L697.7,491.6 L698.1,491.8 L698.6,492.1 L699.0,492.4 L699.5,492.6 L700.0,492.9 L700.4,493.2 L700.9,493.5 L701.3,493.7 L701.8,494.0 L702.3,494.3 L702.7,494.5 L703.2,494.8 L703.6,495.1 L704.1,495.3 L704.5,495.6 L705.0,495.8 L705.5,496.1 L705.9,496.4 L706.4,496.6 L706.8,496.9 L707.3,497.2 L707.8,497.4 L708.2,497.7 L708.7,498.0 L709.1,498.2 L709.6,498.5 L710.1,498.7 L710.5,499.0 L711.0,499.3 L711.4,499.5 L711.9,499.8 L712.3,500.0 L712.8,500.3 L713.3,500.5 L713.7,500.8 L714.2,501.1 L714.6,501.3 L715.1,501.6 L715.6,501.8 L716.0,502.1 L716.5,502.3 L716.9,502.6 L717.4,502.8 L717.9,503.1 L718.3,503.3 L718.8,503.6 L719.2,503.8 L719.7,504.1 L720.2,504.3 L720.6,504.6 L721.1,504.8 L721.5,505.1 L722.0,505.3 L722.4,505.6 L722.9,505.8 L723.4,506.0 L723.8,506.3 L724.3,506.5 L724.7,506.8 L725.2,507.0 L725.7,507.3 L726.1,507.5 L726.6,507.7 L727.0,508.0 L727.5,508.2 L728.0,508.4 L728.4,508.7 L728.9,508.9 L729.3,509.1 L729.8,509.4 L730.2,509.6 L730.7,509.8 L731.2,510.1 L731.6,510.3 L732.1,510.5 L732.5,510.8 L733.0,511.0 L733.5,511.2 L733.9,511.5 L734.4,511.7 L734.8,511.9 L735.3,512.1 L735.8,512.4 L736.2,512.6 L736.7,512.8 L737.1,513.0 L737.6,513.3 L738.0,513.5 L738.5,513.7 L739.0,513.9 L739.4,514.1 L739.9,514.3 L740.3,514.6 L740.8,514.8 L741.3,515.0 L741.7,515.2 L742.2,515.4 L742.6,515.6 L743.1,515.9 L743.6,516.1 L744.0,516.3 L744.5,516.5 L744.9,516.7 L745.4,516.9 L745.9,517.1 L746.3,517.3 L746.8,517.5 L747.2,517.7 L747.7,518.0 L748.1,518.2 L748.6,518.4 L749.1,518.6 L749.5,518.8 L750.0,519.0 L750.4,519.2 L750.9,519.4 L751.4,519.6 L751.8,519.8 L752.3,520.0 L752.7,520.2 L753.2,520.4 L753.7,520.6 L754.1,520.8 L754.6,521.0 L755.0,521.2 L755.5,521.4 L755.9,521.5 L756.4,521.7 L756.9,521.9 L757.3,522.1 L757.8,522.3 L758.2,522.5 L758.7,522.7 L759.2,522.9 L759.6,523.1 L760.1,523.3 L760.5,523.4 L761.0,523.6 L761.5,523.8 L761.9,524.0 L762.4,524.2 L762.8,524.4 L763.3,524.6 L767.5,526.2 L771.6,527.8 L775.8,529.3 L780.0,530.8 L784.2,532.2 L788.4,533.6 L792.5,535.0 L796.7,536.3 L800.9,537.5 L805.1,538.7 L809.3,539.9 L813.4,541.1 L817.6,542.2 L821.8,543.2 L826.0,544.3 L830.1,545.3 L834.3,546.3 L838.5,547.2 L842.7,548.2 L846.9,549.1 L851.0,549.9 L855.2,550.8 L859.4,551.6 L863.6,552.4 L867.8,553.2 L871.9,553.9 L876.1,554.7 L880.3,555.4 L884.5,556.1 L888.6,556.7 L892.8,557.4 L897.0,558.1 L901.2,558.7 L905.4,559.3 L909.5,559.9 L913.7,560.5 L917.9,561.0 L922.1,561.6 L926.3,562.1 L930.4,562.7 L934.6,563.2 L938.8,563.7 L943.0,564.2 L947.1,564.7 L951.3,565.1 L955.5,565.6 L959.7,566.0 L963.9,566.5 L968.0,566.9 L972.2,567.3 L976.4,567.8 L980.6,568.2 L984.8,568.6 L988.9,569.0 L993.1,569.3 L997.3,569.7 L1001.5,570.1 L1005.6,570.4 L1009.8,570.8 L1014.0,571.1 L1018.2,571.5 L1022.4,571.8 L1026.5,572.1 L1030.7,572.5 L1034.9,572.8 L1039.1,573.1 L1043.3,573.4 L1047.4,573.7 L1051.6,574.0 L1055.8,574.3 L1060.0,574.5 L1064.1,574.8 L1068.3,575.1 L1072.5,575.4 L1076.7,575.6 L1080.9,575.9 L1085.0,576.1 L1089.2,576.4 L1093.4,576.6 L1097.6,576.9 L1101.8,577.1 L1105.9,577.4 L1110.1,577.6 L1114.3,577.8 L1118.5,578.1 L1122.6,578.3 L1126.8,578.5 L1131.0,578.7 L1135.2,578.9 L1139.4,579.1 L1143.5,579.3 L1147.7,579.5 L1151.9,579.7 L1156.1,579.9 L1160.3,580.1 L1164.4,580.3 L1168.6,580.5 L1172.8,580.7 L1177.0,580.9 L1181.1,581.1 L1185.3,581.2 L1189.5,581.4 L1193.7,581.6 L1197.9,581.8 L1202.0,581.9 L1206.2,582.1 L1210.4,582.3 L1214.6,582.4 L1218.8,582.6 L1222.9,582.7 L1227.1,582.9 L1231.3,583.1 L1235.5,583.2 L1239.6,583.4 L1243.8,583.5 L1248.0,583.7 L1252.2,583.8 L1256.4,583.9 L1260.5,584.1 L1264.7,584.2 L1268.9,584.4 L1273.1,584.5 L1277.3,584.6 L1281.4,584.8 L1285.6,584.9 L1289.8,585.0 L1294.0,585.2 L1298.1,585.3 L1302.3,585.4 L1306.5,585.5 L1310.7,585.7 L1314.9,585.8 L1319.0,585.9 L1323.2,586.0 L1327.4,586.1 L1331.6,586.3 L1335.8,586.4 L1339.9,586.5 L1344.1,586.6 L1348.3,586.7 L1352.5,586.8 L1356.6,586.9 L1360.8,587.0 L1365.0,587.2 L1369.2,587.3 L1373.4,587.4 L1377.5,587.5 L1381.7,587.6 L1385.9,587.7"/>
<path d="M470.3,509.1 L473.1,509.1 L475.9,509.0 L478.8,508.9 L481.6,508.7 L484.4,508.5 L487.2,508.3 L490.0,508.0 L492.8,507.7 L495.7,507.3 L498.5,506.9 L501.3,506.5 L504.1,506.1 L506.9,505.6 L509.7,505.1 L512.6,504.6 L515.4,504.1 L518.2,503.5 L521.0,503.0 L523.8,502.5 L526.6,501.9 L529.5,501.4 L532.3,500.8 L535.1,500.3 L537.9,499.8 L540.7,499.3 L543.5,498.8 L546.4,498.3 L549.2,497.9 L552.0,497.4 L554.8,497.0 L557.6,496.6 L560.5,496.3 L563.3,495.9 L566.1,495.6 L568.9,495.3 L571.7,495.0 L574.5,494.8 L577.4,494.6 L580.2,494.4 L580.6,494.4 L581.1,494.3 L581.5,494.3 L582.0,494.3 L582.5,494.2 L582.9,494.2 L583.4,494.2 L583.8,494.2 L584.3,494.1 L584.8,494.1 L585.2,494.1 L585.7,494.1 L586.1,494.1 L586.6,494.0 L587.1,494.0 L587.5,494.0 L588.0,494.0 L588.4,494.0 L588.9,494.0 L589.4,493.9 L589.8,493.9 L590.3,493.9 L590.7,493.9 L591.2,493.9 L591.6,493.9 L592.1,493.9 L592.6,493.9 L593.0,493.8 L593.5,493.8 L593.9,493.8 L594.4,493.8 L594.9,493.8 L595.3,493.8 L595.8,493.8 L596.2,493.8 L596.7,493.8 L597.2,493.8 L597.6,493.8 L598.1,493.8 L598.5,493.8 L599.0,493.8 L599.4,493.8 L599.9,493.8 L600.4,493.8 L600.8,493.8 L601.3,493.8 L601.7,493.8 L602.2,493.8 L602.7,493.8 L603.1,493.8 L603.6,493.8 L604.0,493.8 L604.5,493.8 L605.0,493.8 L605.4,493.8 L605.9,493.8 L606.3,493.8 L606.8,493.8 L607.2,493.9 L607.7,493.9 L608.2,493.9 L608.6,493.9 L609.1,493.9 L609.5,493.9 L610.0,493.9 L610.5,493.9 L610.9,494.0 L611.4,494.0 L611.8,494.0 L612.3,494.0 L612.8,494.0 L613.2,494.0 L613.7,494.1 L614.1,494.1 L614.6,494.1 L615.1,494.1 L615.5,494.1 L616.0,494.2 L616.4,494.2 L616.9,494.2 L617.3,494.2 L617.8,494.2 L618.3,494.3 L618.7,494.3 L619.2,494.3 L619.6,494.3 L620.1,494.4 L620.6,494.4 L621.0,494.4 L621.5,494.4 L621.9,494.5 L622.4,494.5 L622.9,494.5 L623.3,494.6 L623.8,494.6 L624.2,494.6 L624.7,494.6 L625.1,494.7 L625.6,494.7 L626.1,494.7 L626.5,494.8 L627.0,494.8 L627.4,494.8 L627.9,494.9 L628.4,494.9 L628.8,494.9 L629.3,495.0 L629.7,495.0 L630.2,495.0 L630.7,495.1 L631.1,495.1 L631.6,495.2 L632.0,495.2 L632.5,495.2 L633.0,495.3 L633.4,495.3 L633.9,495.4 L634.3,495.4 L634.8,495.4 L635.2,495.5 L635.7,495.5 L636.2,495.6 L636.6,495.6 L637.1,495.6 L637.5,495.7 L638.0,495.7 L638.5,495.8 L638.9,495.8 L639.4,495.9 L639.8,495.9 L640.3,496.0 L640.8,496.0 L641.2,496.0 L641.7,496.1 L642.1,496.1 L642.6,496.2 L643.0,496.2 L643.5,496.3 L644.0,496.3 L644.4,496.4 L644.9,496.4 L645.3,496.5 L645.8,496.5 L646.3,496.6 L646.7,496.6 L647.2,496.7 L647.6,496.7 L648.1,496.8 L648.6,496.8 L649.0,496.9 L649.5,496.9 L649.9,497.0 L650.4,497.0 L650.8,497.1 L651.3,497.2 L651.8,497.2 L652.2,497.3 L652.7,497.3 L653.1,497.4 L653.6,497.4 L654.1,497.5 L654.5,497.5 L655.0,497.6 L655.4,497.7 L655.9,497.7 L656.4,497.8 L656.8,497.8 L657.3,497.9 L657.7,497.9 L658.2,498.0 L658.7,498.1 L659.1,498.1 L659.6,498.2 L660.0,498.2 L660.5,498.3 L660.9,498.4 L661.4,498.4 L661.9,498.5 L662.3,498.5 L662.8,498.6 L663.2,498.7 L663.7,498.7 L664.2,498.8 L664.6,498.9 L665.1,498.9 L665.5,499.0 L666.0,499.0 L666.5,499.1 L666.9,499.2 L667.4,499.2 L667.8,499.3 L668.3,499.4 L668.7,499.4 L669.2,499.5 L669.7,499.6 L670.1,499.6 L670.6,499.7 L671.0,499.7 L671.5,499.8 L672.0,499.9 L672.4,499.9 L672.9,500.0 L673.3,500.1 L673.8,500.1 L674.3,500.2 L674.7,500.3 L675.2,500.3 L675.6,500.4 L676.1,500.5 L676.6,500.5 L677.0,500.6 L677.5,500.7 L677.9,500.8 L678.4,500.8 L678.8,500.9 L679.3,501.0 L679.8,501.0 L680.2,501.1 L680.7,501.2 L681.1,501.2 L681.6,501.3 L682.1,501.4 L682.5,501.4 L683.0,501.5 L683.4,501.6 L683.9,501.7 L684.4,501.7 L684.8,501.8 L685.3,501.9 L685.7,501.9 L686.2,502.0 L686.6,502.1 L687.1,502.2 L687.6,502.2 L688.0,502.3 L688.5,502.4 L688.9,502.4 L689.4,502.5 L689.9,502.6 L690.3,502.7 L690.8,502.7 L691.2,502.8 L691.7,502.9 L692.2,502.9 L692.6,503.0 L693.1,503.1 L693.5,503.2 L694.0,503.2 L694.4,503.3 L694.9,503.4 L695.4,503.5 L695.8,503.5 L696.3,503.6 L696.7,503.7 L697.2,503.8 L697.7,503.8 L698.1,503.9 L698.6,504.0 L699.0,504.1 L699.5,504.1 L700.0,504.2 L700.4,504.3 L700.9,504.4 L701.3,504.4 L701.8,504.5 L702.3,504.6 L702.7,504.7 L703.2,504.7 L703.6,504.8 L704.1,504.9 L704.5,505.0 L705.0,505.0 L705.5,505.1 L705.9,505.2 L706.4,505.3 L706.8,505.3 L707.3,505.4 L707.8,505.5 L708.2,505.6 L708.7,505.6 L709.1,505.7 L709.6,505.8 L710.1,505.9 L710.5,505.9 L711.0,506.0 L711.4,506.1 L711.9,506.2 L712.3,506.3 L712.8,506.3 L713.3,506.4 L713.7,506.5 L714.2,506.6 L714.6,506.6 L715.1,506.7 L715.6,506.8 L716.0,506.9 L716.5,506.9 L716.9,507.0 L717.4,507.1 L717.9,507.2 L718.3,507.3 L718.8,507.3 L719.2,507.4 L719.7,507.5 L720.2,507.6 L720.6,507.6 L721.1,507.7 L721.5,507.8 L722.0,507.9 L722.4,508.0 L722.9,508.0 L723.4,508.1 L723.8,508.2 L724.3,508.3 L724.7,508.3 L725.2,508.4 L725.7,508.5 L726.1,508.6 L726.6,508.7 L727.0,508.7 L727.5,508.8 L728.0,508.9 L728.4,509.0 L728.9,509.0 L729.3,509.1 L729.8,509.2 L730.2,509.3 L730.7,509.4 L731.2,509.4 L731.6,509.5 L732.1,509.6 L732.5,509.7 L733.0,509.8 L733.5,509.8 L733.9,509.9 L734.4,510.0 L734.8,510.1 L735.3,510.1 L735.8,510.2 L736.2,510.3 L736.7,510.4 L737.1,510.5 L737.6,510.5 L738.0,510.6 L738.5,510.7 L739.0,510.8 L739.4,510.8 L739.9,510.9 L740.3,511.0 L740.8,511.1 L741.3,511.2 L741.7,511.2 L742.2,511.3 L742.6,511.4 L743.1,511.5 L743.6,511.6 L744.0,511.6 L744.5,511.7 L744.9,511.8 L745.4,511.9 L745.9,511.9 L746.3,512.0 L746.8,512.1 L747.2,512.2 L747.7,512.3 L748.1,512.3 L748.6,512.4 L749.1,512.5 L749.5,512.6 L750.0,512.6 L750.4,512.7 L750.9,512.8 L751.4,512.9 L751.8,513.0 L752.3,513.0 L752.7,513.1 L753.2,513.2 L753.7,513.3 L754.1,513.3 L754.6,513.4 L755.0,513.5 L755.5,513.6 L755.9,513.7 L756.4,513.7 L756.9,513.8 L757.3,513.9 L757.8,514.0 L758.2,514.0 L758.7,514.1 L759.2,514.2 L759.6,514.3 L760.1,514.4 L760.5,514.4 L761.0,514.5 L761.5,514.6 L761.9,514.7 L762.4,514.7 L762.8,514.8 L763.3,514.9 L767.5,515.6 L771.6,516.3 L775.8,517.0 L780.0,517.7 L784.2,518.4 L788.4,519.0 L792.5,519.7 L796.7,520.4 L800.9,521.1 L805.1,521.7 L809.3,522.4 L813.4,523.0 L817.6,523.7 L821.8,524.3 L826.0,524.9 L830.1,525.6 L834.3,526.2 L838.5,526.8 L842.7,527.4 L846.9,528.0 L851.0,528.6 L855.2,529.2 L859.4,529.8 L863.6,530.4 L867.8,530.9 L871.9,531.5 L876.1,532.1 L880.3,532.6 L884.5,533.2 L888.6,533.7 L892.8,534.2 L897.0,534.8 L901.2,535.3 L905.4,535.8 L909.5,536.3 L913.7,536.8 L917.9,537.3 L922.1,537.8 L926.3,538.3 L930.4,538.8 L934.6,539.3 L938.8,539.8 L943.0,540.2 L947.1,540.7 L951.3,541.2 L955.5,541.6 L959.7,542.1 L963.9,542.5 L968.0,542.9 L972.2,543.4 L976.4,543.8 L980.6,544.2 L984.8,544.6 L988.9,545.1 L993.1,545.5 L997.3,545.9 L1001.5,546.3 L1005.6,546.7 L1009.8,547.1 L1014.0,547.5 L1018.2,547.8 L1022.4,548.2 L1026.5,548.6 L1030.7,549.0 L1034.9,549.3 L1039.1,549.7 L1043.3,550.0 L1047.4,550.4 L1051.6,550.8 L1055.8,551.1 L1060.0,551.4 L1064.1,551.8 L1068.3,552.1 L1072.5,552.5 L1076.7,552.8 L1080.9,553.1 L1085.0,553.4 L1089.2,553.7 L1093.4,554.1 L1097.6,554.4 L1101.8,554.7 L1105.9,555.0 L1110.1,555.3 L1114.3,555.6 L1118.5,555.9 L1122.6,556.2 L1126.8,556.5 L1131.0,556.8 L1135.2,557.0 L1139.4,557.3 L1143.5,557.6 L1147.7,557.9 L1151.9,558.1 L1156.1,558.4 L1160.3,558.7 L1164.4,559.0 L1168.6,559.2 L1172.8,559.5 L1177.0,559.7 L1181.1,560.0 L1185.3,560.2 L1189.5,560.5 L1193.7,560.7 L1197.9,561.0 L1202.0,561.2 L1206.2,561.5 L1210.4,561.7 L1214.6,561.9 L1218.8,562.2 L1222.9,562.4 L1227.1,562.6 L1231.3,562.9 L1235.5,563.1 L1239.6,563.3 L1243.8,563.5 L1248.0,563.7 L1252.2,564.0 L1256.4,564.2 L1260.5,564.4 L1264.7,564.6 L1268.9,564.8 L1273.1,565.0 L1277.3,565.2 L1281.4,565.4 L1285.6,565.6 L1289.8,565.8 L1294.0,566.0 L1298.1,566.2 L1302.3,566.4 L1306.5,566.6 L1310.7,566.8 L1314.9,567.0 L1319.0,567.2 L1323.2,567.4 L1327.4,567.5 L1331.6,567.7 L1335.8,567.9 L1339.9,568.1 L1344.1,568.3 L1348.3,568.4 L1352.5,568.6 L1356.6,568.8 L1360.8,569.0 L1365.0,569.1 L1369.2,569.3 L1373.4,569.5 L1377.5,569.6 L1381.7,569.8 L1385.9,570.0"/>
<path d="M470.3,509.1 L473.1,509.1 L475.9,509.0 L478.8,508.9 L481.6,508.8 L484.4,508.6 L487.2,508.4 L490.0,508.1 L492.8,507.9 L495.7,507.6 L498.5,507.4 L501.3,507.1 L504.1,506.9 L506.9,506.7 L509.7,506.4 L512.6,506.2 L515.4,506.0 L518.2,505.8 L521.0,505.7 L523.8,505.5 L526.6,505.4 L529.5,505.2 L532.3,505.1 L535.1,505.0 L537.9,504.9 L540.7,504.8 L543.5,504.7 L546.4,504.7 L549.2,504.6 L552.0,504.6 L554.8,504.5 L557.6,504.5 L560.5,504.5 L563.3,504.5 L566.1,504.5 L568.9,504.4 L571.7,504.4 L574.5,504.5 L577.4,504.5 L580.2,504.5 L580.6,504.5 L581.1,504.5 L581.5,504.5 L582.0,504.5 L582.5,504.5 L582.9,504.5 L583.4,504.5 L583.8,504.5 L584.3,504.5 L584.8,504.5 L585.2,504.5 L585.7,504.5 L586.1,504.5 L586.6,504.5 L587.1,504.5 L587.5,504.5 L588.0,504.5 L588.4,504.6 L588.9,504.6 L589.4,504.6 L589.8,504.6 L590.3,504.6 L590.7,504.6 L591.2,504.6 L591.6,504.6 L592.1,504.6 L592.6,504.6 L593.0,504.6 L593.5,504.6 L593.9,504.6 L594.4,504.6 L594.9,504.6 L595.3,504.6 L595.8,504.6 L596.2,504.7 L596.7,504.7 L597.2,504.7 L597.6,504.7 L598.1,504.7 L598.5,504.7 L599.0,504.7 L599.4,504.7 L599.9,504.7 L600.4,504.7 L600.8,504.7 L601.3,504.7 L601.7,504.7 L602.2,504.7 L602.7,504.8 L603.1,504.8 L603.6,504.8 L604.0,504.8 L604.5,504.8 L605.0,504.8 L605.4,504.8 L605.9,504.8 L606.3,504.8 L606.8,504.8 L607.2,504.8 L607.7,504.8 L608.2,504.9 L608.6,504.9 L609.1,504.9 L609.5,504.9 L610.0,504.9 L610.5,504.9 L610.9,504.9 L611.4,504.9 L611.8,504.9 L612.3,504.9 L612.8,504.9 L613.2,505.0 L613.7,505.0 L614.1,505.0 L614.6,505.0 L615.1,505.0 L615.5,505.0 L616.0,505.0 L616.4,505.0 L616.9,505.0 L617.3,505.1 L617.8,505.1 L618.3,505.1 L618.7,505.1 L619.2,505.1 L619.6,505.1 L620.1,505.1 L620.6,505.1 L621.0,505.1 L621.5,505.1 L621.9,505.2 L622.4,505.2 L622.9,505.2 L623.3,505.2 L623.8,505.2 L624.2,505.2 L624.7,505.2 L625.1,505.2 L625.6,505.2 L626.1,505.3 L626.5,505.3 L627.0,505.3 L627.4,505.3 L627.9,505.3 L628.4,505.3 L628.8,505.3 L629.3,505.3 L629.7,505.4 L630.2,505.4 L630.7,505.4 L631.1,505.4 L631.6,505.4 L632.0,505.4 L632.5,505.4 L633.0,505.4 L633.4,505.5 L633.9,505.5 L634.3,505.5 L634.8,505.5 L635.2,505.5 L635.7,505.5 L636.2,505.5 L636.6,505.5 L637.1,505.6 L637.5,505.6 L638.0,505.6 L638.5,505.6 L638.9,505.6 L639.4,505.6 L639.8,505.6 L640.3,505.7 L640.8,505.7 L641.2,505.7 L641.7,505.7 L642.1,505.7 L642.6,505.7 L643.0,505.7 L643.5,505.8 L644.0,505.8 L644.4,505.8 L644.9,505.8 L645.3,505.8 L645.8,505.8 L646.3,505.8 L646.7,505.8 L647.2,505.9 L647.6,505.9 L648.1,505.9 L648.6,505.9 L649.0,505.9 L649.5,505.9 L649.9,506.0 L650.4,506.0 L650.8,506.0 L651.3,506.0 L651.8,506.0 L652.2,506.0 L652.7,506.0 L653.1,506.1 L653.6,506.1 L654.1,506.1 L654.5,506.1 L655.0,506.1 L655.4,506.1 L655.9,506.1 L656.4,506.2 L656.8,506.2 L657.3,506.2 L657.7,506.2 L658.2,506.2 L658.7,506.2 L659.1,506.3 L659.6,506.3 L660.0,506.3 L660.5,506.3 L660.9,506.3 L661.4,506.3 L661.9,506.3 L662.3,506.4 L662.8,506.4 L663.2,506.4 L663.7,506.4 L664.2,506.4 L664.6,506.4 L665.1,506.5 L665.5,506.5 L666.0,506.5 L666.5,506.5 L666.9,506.5 L667.4,506.5 L667.8,506.6 L668.3,506.6 L668.7,506.6 L669.2,506.6 L669.7,506.6 L670.1,506.6 L670.6,506.7 L671.0,506.7 L671.5,506.7 L672.0,506.7 L672.4,506.7 L672.9,506.7 L673.3,506.8 L673.8,506.8 L674.3,506.8 L674.7,506.8 L675.2,506.8 L675.6,506.8 L676.1,506.9 L676.6,506.9 L677.0,506.9 L677.5,506.9 L677.9,506.9 L678.4,507.0 L678.8,507.0 L679.3,507.0 L679.8,507.0 L680.2,507.0 L680.7,507.0 L681.1,507.1 L681.6,507.1 L682.1,507.1 L682.5,507.1 L683.0,507.1 L683.4,507.1 L683.9,507.2 L684.4,507.2 L684.8,507.2 L685.3,507.2 L685.7,507.2 L686.2,507.3 L686.6,507.3 L687.1,507.3 L687.6,507.3 L688.0,507.3 L688.5,507.3 L688.9,507.4 L689.4,507.4 L689.9,507.4 L690.3,507.4 L690.8,507.4 L691.2,507.5 L691.7,507.5 L692.2,507.5 L692.6,507.5 L693.1,507.5 L693.5,507.6 L694.0,507.6 L694.4,507.6 L694.9,507.6 L695.4,507.6 L695.8,507.6 L696.3,507.7 L696.7,507.7 L697.2,507.7 L697.7,507.7 L698.1,507.7 L698.6,507.8 L699.0,507.8 L699.5,507.8 L700.0,507.8 L700.4,507.8 L700.9,507.9 L701.3,507.9 L701.8,507.9 L702.3,507.9 L702.7,507.9 L703.2,508.0 L703.6,508.0 L704.1,508.0 L704.5,508.0 L705.0,508.0 L705.5,508.1 L705.9,508.1 L706.4,508.1 L706.8,508.1 L707.3,508.1 L707.8,508.2 L708.2,508.2 L708.7,508.2 L709.1,508.2 L709.6,508.2 L710.1,508.3 L710.5,508.3 L711.0,508.3 L711.4,508.3 L711.9,508.3 L712.3,508.4 L712.8,508.4 L713.3,508.4 L713.7,508.4 L714.2,508.4 L714.6,508.5 L715.1,508.5 L715.6,508.5 L716.0,508.5 L716.5,508.5 L716.9,508.6 L717.4,508.6 L717.9,508.6 L718.3,508.6 L718.8,508.6 L719.2,508.7 L719.7,508.7 L720.2,508.7 L720.6,508.7 L721.1,508.7 L721.5,508.8 L722.0,508.8 L722.4,508.8 L722.9,508.8 L723.4,508.8 L723.8,508.9 L724.3,508.9 L724.7,508.9 L725.2,508.9 L725.7,508.9 L726.1,509.0 L726.6,509.0 L727.0,509.0 L727.5,509.0 L728.0,509.1 L728.4,509.1 L728.9,509.1 L729.3,509.1 L729.8,509.1 L730.2,509.2 L730.7,509.2 L731.2,509.2 L731.6,509.2 L732.1,509.2 L732.5,509.3 L733.0,509.3 L733.5,509.3 L733.9,509.3 L734.4,509.4 L734.8,509.4 L735.3,509.4 L735.8,509.4 L736.2,509.4 L736.7,509.5 L737.1,509.5 L737.6,509.5 L738.0,509.5 L738.5,509.6 L739.0,509.6 L739.4,509.6 L739.9,509.6 L740.3,509.6 L740.8,509.7 L741.3,509.7 L741.7,509.7 L742.2,509.7 L742.6,509.7 L743.1,509.8 L743.6,509.8 L744.0,509.8 L744.5,509.8 L744.9,509.9 L745.4,509.9 L745.9,509.9 L746.3,509.9 L746.8,509.9 L747.2,510.0 L747.7,510.0 L748.1,510.0 L748.6,510.0 L749.1,510.1 L749.5,510.1 L750.0,510.1 L750.4,510.1 L750.9,510.2 L751.4,510.2 L751.8,510.2 L752.3,510.2 L752.7,510.2 L753.2,510.3 L753.7,510.3 L754.1,510.3 L754.6,510.3 L755.0,510.4 L755.5,510.4 L755.9,510.4 L756.4,510.4 L756.9,510.4 L757.3,510.5 L757.8,510.5 L758.2,510.5 L758.7,510.5 L759.2,510.6 L759.6,510.6 L760.1,510.6 L760.5,510.6 L761.0,510.7 L761.5,510.7 L761.9,510.7 L762.4,510.7 L762.8,510.7 L763.3,510.8 L767.5,511.0 L771.6,511.2 L775.8,511.4 L780.0,511.6 L784.2,511.8 L788.4,512.1 L792.5,512.3 L796.7,512.5 L800.9,512.7 L805.1,513.0 L809.3,513.2 L813.4,513.4 L817.6,513.7 L821.8,513.9 L826.0,514.1 L830.1,514.3 L834.3,514.6 L838.5,514.8 L842.7,515.1 L846.9,515.3 L851.0,515.5 L855.2,515.8 L859.4,516.0 L863.6,516.3 L867.8,516.5 L871.9,516.7 L876.1,517.0 L880.3,517.2 L884.5,517.5 L888.6,517.7 L892.8,518.0 L897.0,518.2 L901.2,518.5 L905.4,518.7 L909.5,518.9 L913.7,519.2 L917.9,519.4 L922.1,519.7 L926.3,519.9 L930.4,520.2 L934.6,520.4 L938.8,520.7 L943.0,520.9 L947.1,521.2 L951.3,521.4 L955.5,521.7 L959.7,521.9 L963.9,522.2 L968.0,522.4 L972.2,522.7 L976.4,522.9 L980.6,523.2 L984.8,523.4 L988.9,523.7 L993.1,523.9 L997.3,524.2 L1001.5,524.4 L1005.6,524.7 L1009.8,524.9 L1014.0,525.2 L1018.2,525.4 L1022.4,525.6 L1026.5,525.9 L1030.7,526.1 L1034.9,526.4 L1039.1,526.6 L1043.3,526.9 L1047.4,527.1 L1051.6,527.4 L1055.8,527.6 L1060.0,527.9 L1064.1,528.1 L1068.3,528.3 L1072.5,528.6 L1076.7,528.8 L1080.9,529.1 L1085.0,529.3 L1089.2,529.5 L1093.4,529.8 L1097.6,530.0 L1101.8,530.3 L1105.9,530.5 L1110.1,530.7 L1114.3,531.0 L1118.5,531.2 L1122.6,531.4 L1126.8,531.7 L1131.0,531.9 L1135.2,532.1 L1139.4,532.4 L1143.5,532.6 L1147.7,532.8 L1151.9,533.1 L1156.1,533.3 L1160.3,533.5 L1164.4,533.7 L1168.6,534.0 L1172.8,534.2 L1177.0,534.4 L1181.1,534.6 L1185.3,534.9 L1189.5,535.1 L1193.7,535.3 L1197.9,535.5 L1202.0,535.8 L1206.2,536.0 L1210.4,536.2 L1214.6,536.4 L1218.8,536.6 L1222.9,536.9 L1227.1,537.1 L1231.3,537.3 L1235.5,537.5 L1239.6,537.7 L1243.8,537.9 L1248.0,538.1 L1252.2,538.4 L1256.4,538.6 L1260.5,538.8 L1264.7,539.0 L1268.9,539.2 L1273.1,539.4 L1277.3,539.6 L1281.4,539.8 L1285.6,540.0 L1289.8,540.2 L1294.0,540.4 L1298.1,540.6 L1302.3,540.8 L1306.5,541.0 L1310.7,541.2 L1314.9,541.4 L1319.0,541.6 L1323.2,541.8 L1327.4,542.0 L1331.6,542.2 L1335.8,542.4 L1339.9,542.6 L1344.1,542.8 L1348.3,543.0 L1352.5,543.2 L1356.6,543.4 L1360.8,543.6 L1365.0,543.8 L1369.2,544.0 L1373.4,544.2 L1377.5,544.4 L1381.7,544.5 L1385.9,544.7"/>
</g>
<rect x="470.3" y="13.2" width="915.6" height="595.1" fill="none" stroke="#000" stroke-width="2"/>
<path d="M470.3,608.3 v-9.5 M470.3,13.2 v9.5 M653.4,608.3 v-9.5 M653.4,13.2 v9.5 M836.5,608.3 v-9.5 M836.5,13.2 v9.5 M1019.7,608.3 v-9.5 M1019.7,13.2 v9.5 M1202.8,608.3 v-9.5 M1202.8,13.2 v9.5 M1385.9,608.3 v-9.5 M1385.9,13.2 v9.5 M470.3,608.3 h9.5 M1385.9,608.3 h-9.5 M470.3,509.1 h9.5 M1385.9,509.1 h-9.5 M470.3,409.9 h9.5 M1385.9,409.9 h-9.5 M470.3,310.8 h9.5 M1385.9,310.8 h-9.5 M470.3,211.6 h9.5 M1385.9,211.6 h-9.5 M470.3,112.4 h9.5 M1385.9,112.4 h-9.5 M470.3,13.2 h9.5 M1385.9,13.2 h-9.5" stroke="#000" stroke-width="1.7" fill="none"/>
<text class="s" x="470.0" y="645.2" font-size="30" text-anchor="middle">0</text>
<text class="s" x="653.1" y="645.2" font-size="30" text-anchor="middle">1</text>
<text class="s" x="836.2" y="645.2" font-size="30" text-anchor="middle">2</text>
<text class="s" x="1019.4" y="645.2" font-size="30" text-anchor="middle">3</text>
<text class="s" x="1202.5" y="645.2" font-size="30" text-anchor="middle">4</text>
<text class="s" x="1385.6" y="645.2" font-size="30" text-anchor="middle">5</text>
<text class="s" x="458" y="620.9" font-size="30" text-anchor="end">0</text>
<text class="s" x="458" y="521.7" font-size="30" text-anchor="end">1</text>
<text class="s" x="458" y="422.5" font-size="30" text-anchor="end">2</text>
<text class="s" x="458" y="323.4" font-size="30" text-anchor="end">3</text>
<text class="s" x="458" y="224.2" font-size="30" text-anchor="end">4</text>
<text class="s" x="458" y="125.0" font-size="30" text-anchor="end">5</text>
<text class="s" x="458" y="25.8" font-size="30" text-anchor="end">6</text>
<text class="s" x="930.6" y="693.8" font-size="33.5" text-anchor="middle">Frequency ratio</text>
<text class="s" transform="translate(411.7,319.6) rotate(-90)" font-size="33.35" text-anchor="middle">Displacement transmissibility</text>
<g stroke="#808080" stroke-width="1.7" fill="none">
<path d="M549.0,117.1 L628.8,192.7"/>
<path d="M561.4,203.4 L630.1,255.8"/>
<path d="M546.4,361.1 L616.9,412.0"/>
<path d="M530.7,412.0 L614.1,461.8"/>
<path d="M522.9,449.3 L613.0,492.3"/>
<path d="M513.1,489.2 L592.6,504.1"/>
</g>
<path d="M736.4,338.8 L634.9,574.2" stroke="#808080" stroke-width="1.7" fill="none"/><path d="M630.3,584.8 L631.4,567.6 L634.9,574.2 L642.0,572.2 Z" fill="#808080" stroke="#808080" stroke-width="0.8" stroke-linejoin="round"/>
<path d="M780.4,594.2 L829.4,489.2" stroke="#808080" stroke-width="1.7" fill="none"/><path d="M834.3,478.8 L832.7,495.9 L829.4,489.2 L822.2,491.0 Z" fill="#808080" stroke="#808080" stroke-width="0.8" stroke-linejoin="round"/>
<text class="t" x="498.8" y="113.4" font-size="30.5" font-style="italic" stroke="#000" stroke-width="0.3">ζ</text><text class="s" x="520.3" y="112" font-size="30" stroke="#000" stroke-width="0.3">=</text><text class="s" x="545.2" y="112.5" font-size="30.6" stroke="#000" stroke-width="0.1">0</text>
<text class="s" x="529.5" y="204.8" font-size="29.5">.1</text>
<text class="s" x="505" y="355.3" font-size="29.5">.25</text>
<text class="s" x="501" y="412" font-size="29.5">.5</text>
<text class="s" x="494.5" y="453.2" font-size="29.5">1</text>
<text class="s" x="487" y="493.5" font-size="29.5">2</text>
</g>
</svg></body></html>
